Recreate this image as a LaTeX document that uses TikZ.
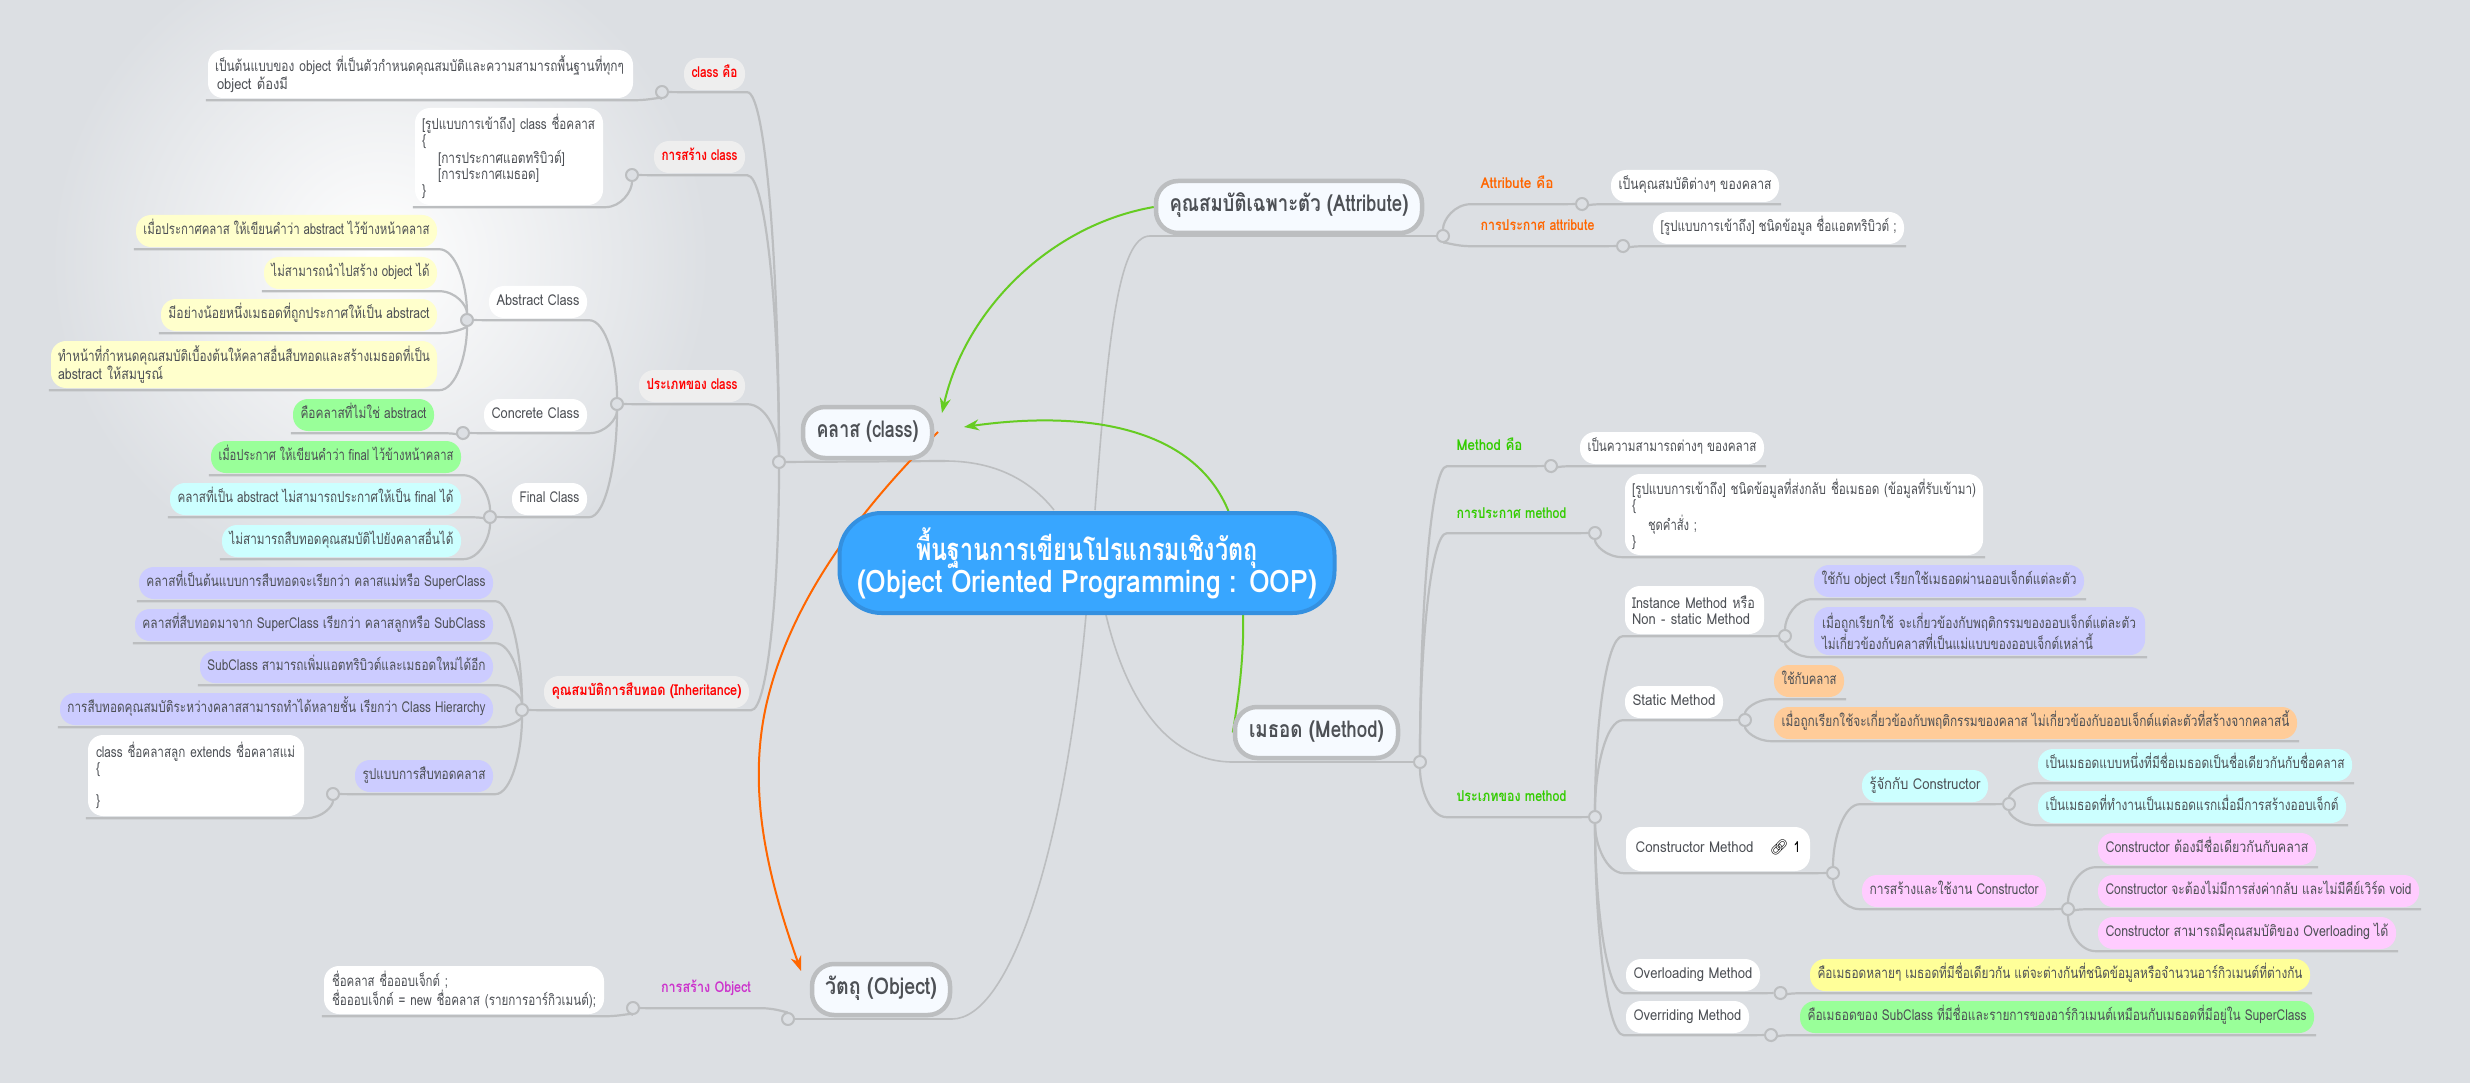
\documentclass[tikz,border=0pt]{standalone}
\usepackage{graphicx}
\usepackage{fontspec}
\setmainfont[Script=Thai,FakeStretch=0.8]{Loma}
\newfontfamily\emojifont{Noto Emoji}
\usetikzlibrary{arrows.meta,backgrounds,calc}
\definecolor{bgmap}{HTML}{DCDFE3}
\definecolor{linegray}{HTML}{BCBEC0}
\definecolor{inkgray}{HTML}{4D5055}
\definecolor{titlefill}{HTML}{F6FAFF}
\definecolor{mainfill}{HTML}{38A6FF}
\definecolor{mainedge}{HTML}{3490E0}
\definecolor{tagfill}{HTML}{EEEEEE}
\definecolor{softyellow}{HTML}{FFFFCC}
\definecolor{softgreen}{HTML}{99FF99}
\definecolor{softcyan}{HTML}{CCFFFF}
\definecolor{softviolet}{HTML}{CCCCFF}
\definecolor{softorange}{HTML}{FFCC99}
\definecolor{softpink}{HTML}{FFCCFF}
\definecolor{softlemon}{HTML}{FFFF99}
\definecolor{labelorange}{HTML}{FF6600}
\definecolor{labelgreen}{HTML}{33CC00}
\definecolor{labelpurple}{HTML}{CC33CC}
\definecolor{arrowgreen}{HTML}{66CC22}
\pgfdeclareradialshading{mapglow}{\pgfpoint{0bp}{0bp}}{color(0bp)=(white); color(25bp)=(bgmap); color(50bp)=(bgmap)}
\tikzset{
	leafbox/.style={rounded corners=15pt, inner sep=0pt, text=inkgray, font=\fontsize{15}{16}\selectfont},
	oneline/.style={leafbox, text height=11pt, text depth=4pt},
	noteleft/.style={leafbox, align=left},
	tagbox/.style={rounded corners=15pt, inner sep=0pt, text height=11pt, text depth=4pt, font=\fontsize{15}{16}\selectfont\bfseries},
	titlebox/.style={rounded corners=22pt, inner sep=0pt, fill=titlefill, draw=linegray, line width=4.5pt, text=inkgray, text height=16pt, text depth=6pt, font=\fontsize{23}{26}\selectfont\bfseries},
	junc/.style={circle, draw=linegray, fill=bgmap, line width=2pt, minimum size=12pt, inner sep=0pt},
	branch/.style={draw=linegray, line width=2.2pt},
	trunk/.style={draw=linegray, line width=1.6pt},
	limb/.style={to path={.. controls ($(\tikztostart)!.6!(\tikztotarget|-\tikztostart)$) and ($(\tikztotarget|-\tikztostart)!.5!(\tikztotarget)$) .. (\tikztotarget)}},
}
\newcommand{\fitw}[2]{\pgfmathsetlengthmacro\fitwd{#1}\resizebox{\fitwd}{\height}{#2}}
\newcommand{\mapnode}[7][leafbox]{%
	\node[#1, minimum width={(#5-#3)*1pt}, minimum height={(#6-#4)*1pt}] (#2) at ({(#3+#5)/2},{(#4+#6)/2}) {#7};
	\path ([shift={(-2pt,-2pt)}]#2.south west) coordinate (#2l) ([shift={(2pt,-2pt)}]#2.south east) coordinate (#2r);
}
\newcommand{\limbR}[2]{\draw[branch] (#1l) -- (#1r) to[limb] (#2);}
\newcommand{\limbL}[2]{\draw[branch] (#1r) -- (#1l) to[limb] (#2);}
\begin{document}
\begin{tikzpicture}[x=1pt, y=-1pt, line join=round, line cap=round]
	\useasboundingbox (0,0) rectangle (2470,1083);
	\node[rounded corners=42pt, inner sep=0pt, fill=mainfill, draw=mainedge, line width=4pt, text=white, align=center, minimum width=495pt, minimum height=100pt, font=\fontsize{31}{32}\selectfont\bfseries] (main) at (1087,563) {\fitw{341.5}{พื้นฐานการเขียนโปรแกรมเชิงวัตถุ}\\\fitw{460}{(Object Oriented Programming : OOP)}};
	\mapnode[titlebox]{classn}{803}{407}{932}{458}{\fitw{102}{คลาส (class)}}
	\mapnode[titlebox]{attrn}{1156}{181}{1422}{233}{\fitw{239}{คุณสมบัติเฉพาะตัว (Attribute)}}
	\mapnode[titlebox]{methn}{1235}{707}{1398}{758}{\fitw{135}{เมธอด (Method)}}
	\mapnode[titlebox]{objn}{812}{964}{950}{1015}{\fitw{112}{วัตถุ (Object)}}
	\foreach \nm/\xa/\ya/\xb/\yb/\txt in {defclass/684/58/745/90/{class คือ}, makeclass/654/141/745/173/{การสร้าง class}, typeclass/639/370/745/402/{ประเภทของ class}, inherit/544/676/749/708/{คุณสมบัติการสืบทอด (Inheritance)}}
		{\mapnode[tagbox, fill=tagfill, text=red]{\nm}{\xa}{\ya}{\xb}{\yb}{\fitw{\xb-\xa-15}{\txt}}}
	\mapnode[tagbox, text=labelpurple]{objmake}{653}{972}{759}{1006}{\fitw{90}{การสร้าง Object}}
	\foreach \nm/\xa/\ya/\xb/\yb/\txt in {attrdef/1473/168/1561/202/{Attribute คือ}, attrdecl/1473/210/1602/244/{การประกาศ attribute}}
		{\mapnode[tagbox, text=labelorange]{\nm}{\xa}{\ya}{\xb}{\yb}{\fitw{\xb-\xa-15}{\txt}}}
	\foreach \nm/\xa/\ya/\xb/\yb/\txt in {mdef/1449/430/1530/464/{Method คือ}, mdecl/1449/499/1574/531/{การประกาศ method}, mtype/1449/781/1574/815/{ประเภทของ method}}
		{\mapnode[tagbox, text=labelgreen]{\nm}{\xa}{\ya}{\xb}{\yb}{\fitw{\xb-\xa-15}{\txt}}}
	\foreach \nm/\xa/\ya/\xb/\yb/\col/\txt in {abstractc/489/286/587/318/white/{Abstract Class}, concrete/484/399/587/431/white/{Concrete Class}, finalc/512/483/587/515/white/{Final Class},
		attrdefleaf/1611/170/1779/202/white/{เป็นคุณสมบัติต่างๆ ของคลาส}, attrdeclleaf/1653/212/1904/244/white/{[รูปแบบการเข้าถึง] ชนิดข้อมูล ชื่อแอตทริบิวต์ ;}, mdefleaf/1580/432/1764/464/white/{เป็นความสามารถต่างๆ ของคลาส},
		stat/1625/686/1723/718/white/{Static Method}, over/1626/959/1760/991/white/{Overloading Method}, ride/1626/1001/1749/1033/white/{Overriding Method},
		absa/136/215/437/247/softyellow/{เมื่อประกาศคลาส ให้เขียนคำว่า abstract ไว้ข้างหน้าคลาส}, absb/264/257/437/289/softyellow/{ไม่สามารถนำไปสร้าง object ได้}, absc/161/299/437/331/softyellow/{มีอย่างน้อยหนึ่งเมธอดที่ถูกประกาศให้เป็น abstract},
		conleaf/293/399/434/431/softgreen/{คือคลาสที่ไม่ใช่ abstract}, fina/211/441/461/473/softgreen/{เมื่อประกาศ ให้เขียนคำว่า final ไว้ข้างหน้าคลาส}, finb/170/483/461/515/softcyan/{คลาสที่เป็น abstract ไม่สามารถประกาศให้เป็น final ได้}, finc/222/525/461/557/softcyan/{ไม่สามารถสืบทอดคุณสมบัติไปยังคลาสอื่นได้},
		inha/139/567/493/599/softviolet/{คลาสที่เป็นต้นแบบการสืบทอดจะเรียกว่า คลาสแม่หรือ SuperClass}, inhb/135/609/493/641/softviolet/{คลาสที่สืบทอดมาจาก SuperClass เรียกว่า คลาสลูกหรือ SubClass}, inhc/200/651/493/683/softviolet/{SubClass สามารถเพิ่มแอตทริบิวต์และเมธอดใหม่ได้อีก}, inhd/60/693/493/725/softviolet/{การสืบทอดคุณสมบัติระหว่างคลาสสามารถทำได้หลายชั้น เรียกว่า Class Hierarchy}, form/355/760/493/792/softviolet/{รูปแบบการสืบทอดคลาส},
		insa/1814/565/2084/597/softviolet/{ใช้กับ object เรียกใช้เมธอดผ่านออบเจ็กต์แต่ละตัว}, stata/1774/665/1844/697/softorange/{ใช้กับคลาส}, statb/1774/707/2297/739/softorange/{เมื่อถูกเรียกใช้จะเกี่ยวข้องกับพฤติกรรมของคลาส ไม่เกี่ยวข้องกับออบเจ็กต์แต่ละตัวที่สร้างจากคลาสนี้},
		know/1862/770/1988/802/softcyan/{รู้จักกับ Constructor}, knowa/2038/749/2352/781/softcyan/{เป็นเมธอดแบบหนึ่งที่มีชื่อเมธอดเป็นชื่อเดียวกันกับชื่อคลาส}, knowb/2038/791/2346/823/softcyan/{เป็นเมธอดที่ทำงานเป็นเมธอดแรกเมื่อมีการสร้างออบเจ็กต์},
		ctuse/1862/875/2046/907/softpink/{การสร้างและใช้งาน Constructor}, usea/2098/833/2316/865/softpink/{Constructor ต้องมีชื่อเดียวกันกับคลาส}, useb/2098/875/2419/907/softpink/{Constructor จะต้องไม่มีการส่งค่ากลับ และไม่มีคีย์เวิร์ด void}, usec/2098/917/2396/949/softpink/{Constructor สามารถมีคุณสมบัติของ Overloading ได้},
		overleaf/1810/959/2310/991/softlemon/{คือเมธอดหลายๆ เมธอดที่มีชื่อเดียวกัน แต่จะต่างกันที่ชนิดข้อมูลหรือจำนวนอาร์กิวเมนต์ที่ต่างกัน}, rideleaf/1800/1001/2314/1033/softgreen/{คือเมธอดของ SubClass ที่มีชื่อและรายการของอาร์กิวเมนต์เหมือนกับเมธอดที่มีอยู่ใน SuperClass}}
		{\mapnode[oneline, fill=\col]{\nm}{\xa}{\ya}{\xb}{\yb}{\fitw{\xb-\xa-15}{\txt}}}
	\foreach \nm/\xa/\ya/\xb/\yb/\tw/\col/\txt in {defleaf/208/50/633/98/411/white/{\fitw{409}{เป็นต้นแบบของ object ที่เป็นตัวกำหนดคุณสมบัติและความสามารถพื้นฐานที่ทุกๆ}\\\hspace*{2pt}\fitw{71}{object ต้องมี}}, makeleaf/415/108/603/205/174/white/{\fitw{173}{[รูปแบบการเข้าถึง] class ชื่อคลาส}\\\{\\\hspace*{16pt}\fitw{127}{[การประกาศแอตทริบิวต์]}\\\hspace*{16pt}\fitw{101}{[การประกาศเมธอด]}\\\}}, absd/51/341/437/388/372/softyellow/{\fitw{372}{ทำหน้าที่กำหนดคุณสมบัติเบื้องต้นให้คลาสอื่นสืบทอดและสร้างเมธอดที่เป็น}\\\fitw{105}{abstract ให้สมบูรณ์}},
		formleaf/88/735/304/816/200/white/{\fitw{199}{class ชื่อคลาสลูก extends ชื่อคลาสแม่}\\\{\\~\\\}}, objleaf/324/966/604/1014/264/white/{\fitw{116}{ชื่อคลาส ชื่อออบเจ็กต์ ;}\\\fitw{264}{ชื่อออบเจ็กต์ = new ชื่อคลาส (รายการอาร์กิวเมนต์);}},
		mdeclleaf/1625/474/1983/555/344/white/{\fitw{344}{[รูปแบบการเข้าถึง] ชนิดข้อมูลที่ส่งกลับ ชื่อเมธอด (ข้อมูลที่รับเข้ามา)}\\\{\\\hspace*{16pt}\fitw{49}{ชุดคำสั่ง ;}\\\}}, inst/1625/586/1764/634/125/white/{\fitw{123}{Instance Method หรือ}\\\fitw{118}{Non - static Method}}, insb/1814/607/2145/655/315/softviolet/{\fitw{314}{เมื่อถูกเรียกใช้ จะเกี่ยวข้องกับพฤติกรรมของออบเจ็กต์แต่ละตัว}\\\fitw{271}{ไม่เกี่ยวข้องกับคลาสที่เป็นแม่แบบของออบเจ็กต์เหล่านี้}}}
		{\mapnode[noteleft, fill=\col, text width=\tw pt]{\nm}{\xa}{\ya}{\xb}{\yb}{\txt}}
	\mapnode[oneline, fill=white]{ctor}{1626}{827}{1810}{871}{\fitw{118}{Constructor Method}\hspace{16pt}\textcolor{black}{{\emojifont 🔗}\hspace{5pt}1}}
	\foreach \nm/\cx/\cy in {jclass/779/462, jdef/662/92, jmake/632/175, jtype/617/404, jinh/522/710, jabs/467/320, jcon/463/433, jfin/490/517, jform/333/794, jobj/788/1019, jobjm/633/1008, jattr/1443/236, jattrdef/1582/204, jattrdecl/1623/246, jmeth/1420/762, jmdef/1551/466, jmdecl/1595/533, jmtype/1595/817, jinst/1785/636, jstat/1745/720, jctor/1833/873, jknow/2009/804, jctuse/2068/909, jover/1780.5/993, jride/1771/1035}
		\node[junc] (\nm) at (\cx,\cy) {};
	\path (945,461) coordinate (classend) (1150,236) coordinate (attrend) (1233,762) coordinate (methend) (952,1019) coordinate (objend)
		(1054,510) coordinate (mainclass) (1095,510) coordinate (mainattr) (1106,615) coordinate (mainmeth) (1086,615) coordinate (mainobj)
		(942,413) coordinate (hitattr) (964,427) coordinate (hitmeth) (801,971) coordinate (hitobj) (1228,510) coordinate (greenbend) (770,690) coordinate (orangebend) (938,432) coordinate (orangestart);
	\begin{scope}[on background layer]
		\fill[bgmap] (0,0) rectangle (2470,1083);
		\begin{scope}
			\clip (0,0) rectangle (2470,1083);
			\shade[shading=mapglow] (380,260) circle (330);
		\end{scope}
		\draw[trunk] (mainclass) .. controls (1030,480) and (995,461) .. (classend);
		\draw[trunk] (mainattr) .. controls (1108,340) and (1118,236) .. (attrend);
		\draw[trunk] (mainmeth) .. controls (1125,695) and (1165,762) .. (methend);
		\draw[trunk] (mainobj) .. controls (1065,850) and (1010,1019) .. (objend);
		\draw[branch] (classend) -- (jclass);
		\draw[branch] (attrend) -- (jattr);
		\draw[branch] (methend) -- (jmeth);
		\draw[branch] (objend) -- (jobj);
		\foreach \kid/\up in {defclass/jclass, makeclass/jclass, typeclass/jclass, inherit/jclass, defleaf/jdef, makeleaf/jmake, abstractc/jtype, concrete/jtype, finalc/jtype, absa/jabs, absb/jabs, absc/jabs, absd/jabs, conleaf/jcon, fina/jfin, finb/jfin, finc/jfin, inha/jinh, inhb/jinh, inhc/jinh, inhd/jinh, form/jinh, formleaf/jform, objmake/jobj, objleaf/jobjm}
			{\limbR{\kid}{\up}}
		\foreach \kid/\up in {attrdef/jattr, attrdecl/jattr, attrdefleaf/jattrdef, attrdeclleaf/jattrdecl, mdef/jmeth, mdecl/jmeth, mtype/jmeth, mdefleaf/jmdef, mdeclleaf/jmdecl, inst/jmtype, stat/jmtype, ctor/jmtype, over/jmtype, ride/jmtype, insa/jinst, insb/jinst, stata/jstat, statb/jstat, know/jctor, ctuse/jctor, knowa/jknow, knowb/jknow, usea/jctuse, useb/jctuse, usec/jctuse, overleaf/jover, rideleaf/jride}
			{\limbL{\kid}{\up}}
		\foreach \jn/\kid in {jdef/defclassl, jmake/makeclassl, jtype/typeclassl, jinh/inheritl, jabs/abstractcl, jcon/concretel, jfin/finalcl, jform/forml, jobjm/objmakel, jattrdef/attrdefr, jattrdecl/attrdeclr, jmdef/mdefr, jmdecl/mdeclr, jmtype/mtyper, jinst/instr, jstat/statr, jctor/ctorr, jknow/knowr, jctuse/ctuser, jover/overr, jride/rider}
			\draw[branch] (\jn) -- (\kid);
		\draw[arrowgreen, line width=2pt, -{Stealth[length=15pt,width=11pt]}] (attrn.west) .. controls (1050,225) and (965,310) .. (hitattr);
		\draw[arrowgreen, line width=2pt, -{Stealth[length=15pt,width=11pt]}] (methn.west) .. controls (1245,660) and (1250,590) .. (greenbend) .. controls (1190,420) and (1070,412) .. (hitmeth);
		\draw[labelorange, line width=2pt, -{Stealth[length=15pt,width=11pt]}] (orangestart) .. controls (880,490) and (800,580) .. (orangebend) .. controls (745,780) and (765,870) .. (hitobj);
	\end{scope}
\end{tikzpicture}
\end{document}
